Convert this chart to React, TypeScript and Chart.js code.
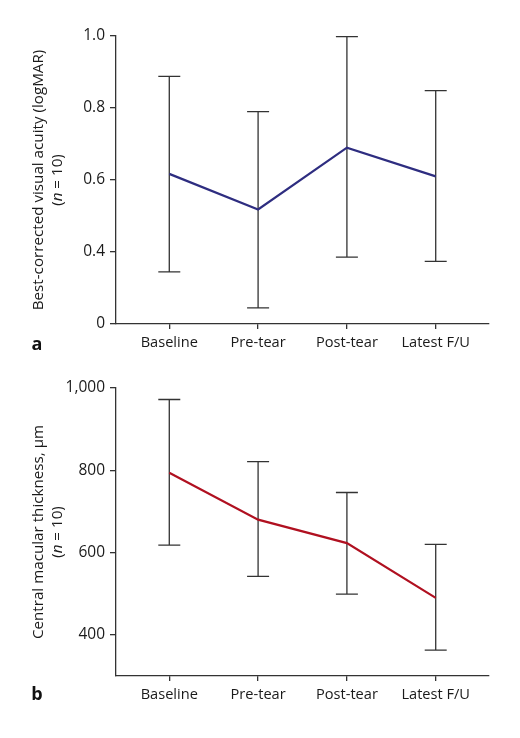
import React, { useEffect, useRef } from "react"
import { Chart, LinearScale, registerables } from "chart.js"

const categories = ["Baseline", "Pre-tear", "Post-tear", "Latest F/U"]

// panel a: best-corrected visual acuity (logMAR), mean with range bars
const bcvaMean = [0.617, 0.518, 0.69, 0.61]
const bcvaLower = [0.29, 0.09, 0.372, 0.348]
const bcvaUpper = [0.888, 0.79, 0.998, 0.848]
const bcvaTicks = [0, 0.4, 0.6, 0.8, 1.0]

// panel b: central macular thickness (µm)
const cmtMean = [794, 680, 623, 490]
const cmtLower = [618, 542, 499, 363]
const cmtUpper = [972, 821, 746, 620]
const cmtTicks = [400, 600, 800, 1000]

const FONT = "'Open Sans', 'Noto Sans', sans-serif"
const AXIS = "#333"
const TEXT = "#1a1a1a"

// y axis of panel a has its ticks evenly spaced (0 .. 0.4 is squeezed)
class SteppedScale extends LinearScale {
  static id = "stepped"
  static defaults = LinearScale.defaults

  toDecimal(v: number) {
    const s = bcvaTicks
    const n = s.length - 1
    let i = 0
    while (i < n - 1 && v > s[i + 1]) i++
    return (i + (v - s[i]) / (s[i + 1] - s[i])) / n
  }

  getPixelForValue(v: any) {
    if (v === null || v === undefined || isNaN(v)) return NaN
    return this.getPixelForDecimal(this.toDecimal(+v))
  }

  getValueForPixel(p: number) {
    const s = bcvaTicks
    const n = s.length - 1
    const d = this.getDecimalForPixel(p) * n
    const i = Math.max(0, Math.min(n - 1, Math.floor(d)))
    return s[i] + (d - i) * (s[i + 1] - s[i])
  }
}

Chart.register(...registerables, SteppedScale)

const errorBars = {
  id: "errorBars",
  beforeDatasetsDraw(chart: any) {
    const { ctx } = chart
    const xs = chart.scales.x
    const ys = chart.scales.y
    ctx.save()
    ctx.strokeStyle = AXIS
    ctx.lineWidth = 1.3
    chart.data.datasets.forEach((ds: any) => {
      ds.lower.forEach((lo: number, i: number) => {
        const px = xs.getPixelForValue(i)
        const pLo = ys.getPixelForValue(lo)
        const pHi = ys.getPixelForValue(ds.upper[i])
        ctx.beginPath()
        ctx.moveTo(px, pLo)
        ctx.lineTo(px, pHi)
        ctx.moveTo(px - 11, pLo)
        ctx.lineTo(px + 11, pLo)
        ctx.moveTo(px - 11, pHi)
        ctx.lineTo(px + 11, pHi)
        ctx.stroke()
      })
    })
    ctx.restore()
  },
}

// rotated two-line axis title with italic n, plus the panel letter
const panelText = {
  id: "panelText",
  afterDraw(chart: any, _args: any, opts: any) {
    const { ctx, chartArea } = chart
    const cy = (chartArea.top + chartArea.bottom) / 2
    ctx.save()
    ctx.fillStyle = TEXT
    ctx.textBaseline = "middle"

    ctx.save()
    ctx.translate(39, cy)
    ctx.rotate(-Math.PI / 2)
    ctx.font = `15.2px ${FONT}`
    ctx.textAlign = "center"
    ctx.fillText(opts.title, 0, 0)
    ctx.restore()

    ctx.save()
    ctx.translate(58, cy)
    ctx.rotate(-Math.PI / 2)
    const parts = [
      ["(", false],
      ["n", true],
      [" = 10)", false],
    ] as [string, boolean][]
    const fontOf = (it: boolean) => `${it ? "italic " : ""}15.2px ${FONT}`
    let w = 0
    parts.forEach(([t, it]) => {
      ctx.font = fontOf(it)
      w += ctx.measureText(t).width
    })
    let x = -w / 2
    ctx.textAlign = "left"
    parts.forEach(([t, it]) => {
      ctx.font = fontOf(it)
      ctx.fillText(t, x, 0)
      x += ctx.measureText(t).width
    })
    ctx.restore()

    ctx.font = `bold 18px ${FONT}`
    ctx.textAlign = "center"
    ctx.fillStyle = "#111"
    ctx.fillText(opts.letter, 37, opts.letterY)
    ctx.restore()
  },
}

const xAxis = (height: number) => ({
  type: "linear",
  min: -0.6,
  max: 3.6,
  afterBuildTicks: (s: any) => {
    s.ticks = categories.map((_, i) => ({ value: i }))
  },
  afterFit: (s: any) => {
    s.height = height
  },
  ticks: {
    callback: (v: any) => categories[v] ?? "",
    color: TEXT,
    font: { family: FONT, size: 14.6 },
    padding: 5,
    autoSkip: false,
    maxRotation: 0,
  },
  grid: { drawOnChartArea: false, drawTicks: true, tickLength: 5, color: AXIS, lineWidth: 1.3 },
  border: { color: AXIS, width: 1.3 },
})

const yAxis = (extra: any) => ({
  afterFit: (s: any) => {
    s.width = 116
  },
  grid: { drawOnChartArea: false, drawTicks: true, tickLength: 6, color: AXIS, lineWidth: 1.3 },
  border: { color: AXIS, width: 1.3 },
  ...extra,
  ticks: {
    color: TEXT,
    font: { family: FONT, size: 15.5 },
    padding: 5,
    autoSkip: false,
    ...extra.ticks,
  },
})

const makeConfig = (p: any): any => ({
  type: "line",
  data: {
    labels: categories,
    datasets: [
      {
        data: p.mean.map((v: number, i: number) => ({ x: i, y: v })),
        lower: p.lower,
        upper: p.upper,
        borderColor: p.color,
        borderWidth: 2.2,
        pointRadius: 0,
        tension: 0,
        fill: false,
      },
    ],
  },
  options: {
    responsive: true,
    maintainAspectRatio: false,
    animation: false,
    layout: { padding: { top: p.padTop, right: 31, left: 0, bottom: 0 } },
    plugins: {
      legend: { display: false },
      tooltip: { enabled: false },
      panelText: { title: p.title, letter: p.letter, letterY: p.letterY },
    },
    scales: { x: xAxis(p.xHeight), y: p.y },
  },
  plugins: [errorBars, panelText],
})

const App: React.FC = () => {
  const refA = useRef<HTMLCanvasElement>(null)
  const refB = useRef<HTMLCanvasElement>(null)

  useEffect(() => {
    document.body.style.margin = "0"
    const charts: Chart[] = []
    if (refA.current) {
      charts.push(
        new Chart(
          refA.current,
          makeConfig({
            mean: bcvaMean,
            lower: bcvaLower,
            upper: bcvaUpper,
            color: "#2e2d80",
            title: "Best-corrected visual acuity (logMAR)",
            letter: "a",
            letterY: 345,
            padTop: 36,
            xHeight: 45,
            y: yAxis({
              type: "stepped",
              min: 0,
              max: 1,
              afterBuildTicks: (s: any) => {
                s.ticks = bcvaTicks.map((v) => ({ value: v }))
              },
              ticks: { callback: (v: any) => (v === 0 ? "0" : Number(v).toFixed(1)) },
            }),
          })
        )
      )
    }
    if (refB.current) {
      charts.push(
        new Chart(
          refB.current,
          makeConfig({
            mean: cmtMean,
            lower: cmtLower,
            upper: cmtUpper,
            color: "#b01020",
            title: "Central macular thickness, µm",
            letter: "b",
            letterY: 326,
            padTop: 19,
            xHeight: 62,
            y: yAxis({
              type: "linear",
              min: 300,
              max: 1000,
              afterBuildTicks: (s: any) => {
                s.ticks = cmtTicks.map((v) => ({ value: v }))
              },
              ticks: { callback: (v: any) => Number(v).toLocaleString("en-US") },
            }),
          })
        )
      )
    }
    return () => charts.forEach((c) => c.destroy())
  }, [])

  return (
    <div style={{ position: "relative", width: 520, height: 738, background: "#fff" }}>
      <div style={{ position: "absolute", left: 0, top: 0, width: 520, height: 369 }}>
        <canvas ref={refA} />
      </div>
      <div style={{ position: "absolute", left: 0, top: 369, width: 520, height: 369 }}>
        <canvas ref={refB} />
      </div>
    </div>
  )
}

export default App
